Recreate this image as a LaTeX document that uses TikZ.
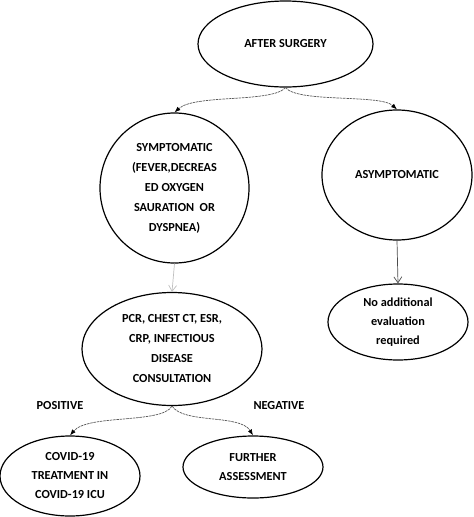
\documentclass[tikz,border=0pt]{standalone}
\usepackage{fontspec}
\setmainfont{Carlito}
\usetikzlibrary{shapes.geometric,arrows.meta}
\tikzset{
  oval/.style={ellipse, draw=black, line width=1.2pt, inner sep=0pt, align=center,
    font=\bfseries\fontsize{12.3}{20}\selectfont},
  curvearrow/.style={draw=gray!70!black, line width=0.7pt, dash pattern=on 2.5pt off 0.8pt,
    -{Latex[length=6pt,width=4.5pt,fill=black,color=black]}},
  straightarrow/.style={draw=gray!60!black, line width=0.7pt, -{Straight Barb[length=6pt,width=8pt]}},
  lightarrow/.style={draw=gray!50, line width=0.7pt, -{Straight Barb[length=6pt,width=8pt]}},
  lbl/.style={font=\bfseries\fontsize{12.3}{14}\selectfont}
}
\begin{document}
\begin{tikzpicture}[x=1pt,y=-1pt]
\useasboundingbox (0,0) rectangle (474,517);
\node[oval, minimum width=175pt, minimum height=86pt] (as) at (285.5,44) {AFTER SURGERY};
\node[oval, minimum width=149pt, minimum height=150pt] (sym) at (174.5,188)
  {SYMPTOMATIC\\(FEVER,DECREAS\\ED OXYGEN\\SAURATION\ \ OR\\DYSPNEA)};
\node[oval, minimum width=150pt, minimum height=130pt] (asym) at (397,175) {ASYMPTOMATIC};
\node[oval, minimum width=140pt, minimum height=76pt, font=\bfseries\fontsize{12.3}{19}\selectfont] (noadd) at (398,322)
  {No additional\\evaluation\\required};
\node[oval, minimum width=180pt, minimum height=113pt] (pcr) at (172,349)
  {PCR, CHEST CT, ESR,\\CRP, INFECTIOUS\\DISEASE\\CONSULTATION};
\node[oval, minimum width=140pt, minimum height=80pt, font=\bfseries\fontsize{12.3}{19}\selectfont] (covid) at (70,476)
  {COVID-19\\TREATMENT IN\\COVID-19 ICU};
\node[oval, minimum width=140pt, minimum height=62pt, font=\bfseries\fontsize{12.3}{19}\selectfont] (further) at (253,467)
  {FURTHER\\ASSESSMENT};
\node[lbl] (pos) at (60,406) {POSITIVE};
\node[lbl] (neg) at (279,406) {NEGATIVE};
\draw[curvearrow] (as.south) .. controls (272,103) and (195,94) .. (sym.north);
\draw[curvearrow] (as.south) .. controls (298,103) and (380,94) .. (asym.north);
\draw[lightarrow] (sym.south) -- (pcr.north);
\draw[straightarrow] (asym.south) -- (noadd.north);
\draw[curvearrow] (pcr.south) .. controls (162,424) and (88,414) .. (covid.north);
\draw[curvearrow] (pcr.south) .. controls (184,424) and (240,414) .. (further.north);
\end{tikzpicture}
\end{document}
